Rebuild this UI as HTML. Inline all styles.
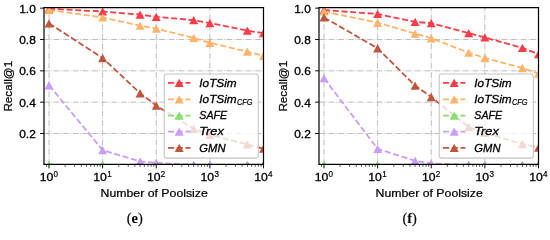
<!DOCTYPE html>
<html><head><meta charset="utf-8"><style>
html,body{margin:0;padding:0;background:#fff;width:550px;height:230px;overflow:hidden}
svg{display:block;will-change:transform}
.t{font-family:"Liberation Sans",sans-serif;font-size:11.6px;fill:#000;stroke:#000;stroke-width:0.32}
.s{font-family:"Liberation Sans",sans-serif;font-size:9.2px;fill:#000;stroke:#000;stroke-width:0.22399999999999998}
.i{font-style:italic}
.lb{stroke-width:0.24}
.cap{font-family:"Liberation Serif",serif;font-size:14.5px;font-weight:bold;fill:#000}
.pr{font-weight:normal;stroke:#000;stroke-width:0.15}
</style></head><body>
<svg width="550" height="230" viewBox="0 0 550 230">
<defs><clipPath id="ce"><rect x="44" y="7.6" width="219.5" height="156.85"/></clipPath><clipPath id="cf"><rect x="319" y="7.6" width="219.5" height="156.85"/></clipPath></defs>
<rect width="550" height="230" fill="#fff"/>
<line x1="49" y1="164.45" x2="49" y2="7.6" stroke="#b5b5b5" stroke-width="0.9" stroke-dasharray="5.8 1.45 0.9 1.45"/>
<line x1="102.62" y1="164.45" x2="102.62" y2="7.6" stroke="#b5b5b5" stroke-width="0.9" stroke-dasharray="5.8 1.45 0.9 1.45"/>
<line x1="156.25" y1="164.45" x2="156.25" y2="7.6" stroke="#b5b5b5" stroke-width="0.9" stroke-dasharray="5.8 1.45 0.9 1.45"/>
<line x1="209.88" y1="164.45" x2="209.88" y2="7.6" stroke="#b5b5b5" stroke-width="0.9" stroke-dasharray="5.8 1.45 0.9 1.45"/>
<line x1="263.5" y1="164.45" x2="263.5" y2="7.6" stroke="#b5b5b5" stroke-width="0.9" stroke-dasharray="5.8 1.45 0.9 1.45"/>
<line x1="44" y1="133.5" x2="263.5" y2="133.5" stroke="#b5b5b5" stroke-width="0.9" stroke-dasharray="5.8 1.45 0.9 1.45"/>
<line x1="44" y1="102.16" x2="263.5" y2="102.16" stroke="#b5b5b5" stroke-width="0.9" stroke-dasharray="5.8 1.45 0.9 1.45"/>
<line x1="44" y1="70.83" x2="263.5" y2="70.83" stroke="#b5b5b5" stroke-width="0.9" stroke-dasharray="5.8 1.45 0.9 1.45"/>
<line x1="44" y1="39.49" x2="263.5" y2="39.49" stroke="#b5b5b5" stroke-width="0.9" stroke-dasharray="5.8 1.45 0.9 1.45"/>
<g clip-path="url(#ce)">
<polyline points="49,8.79 102.62,11.45 140.11,14.58 156.25,16.78 193.73,20.22 209.88,23.04 247.36,30.72 263.5,33.07" fill="none" stroke="#fa3c46" stroke-width="1.8" stroke-dasharray="6.1 2.65"/>
<polygon points="49,4.64 44.5,12.94 53.5,12.94" fill="#fa3c46"/>
<polygon points="102.62,7.3 98.12,15.6 107.12,15.6" fill="#fa3c46"/>
<polygon points="140.11,10.43 135.61,18.73 144.61,18.73" fill="#fa3c46"/>
<polygon points="156.25,12.63 151.75,20.93 160.75,20.93" fill="#fa3c46"/>
<polygon points="193.73,16.07 189.23,24.37 198.23,24.37" fill="#fa3c46"/>
<polygon points="209.88,18.89 205.38,27.19 214.38,27.19" fill="#fa3c46"/>
<polygon points="247.36,26.57 242.86,34.87 251.86,34.87" fill="#fa3c46"/>
<polygon points="263.5,28.92 259,37.22 268,37.22" fill="#fa3c46"/>
<polyline points="49,10.04 102.62,17.4 140.11,25.71 156.25,28.68 193.73,37.93 209.88,42.78 247.36,51.71 263.5,55.79" fill="none" stroke="#fdb46a" stroke-width="1.8" stroke-dasharray="6.1 2.65"/>
<polygon points="49,5.89 44.5,14.19 53.5,14.19" fill="#fdb46a"/>
<polygon points="102.62,13.25 98.12,21.55 107.12,21.55" fill="#fdb46a"/>
<polygon points="140.11,21.56 135.61,29.86 144.61,29.86" fill="#fdb46a"/>
<polygon points="156.25,24.53 151.75,32.83 160.75,32.83" fill="#fdb46a"/>
<polygon points="193.73,33.78 189.23,42.08 198.23,42.08" fill="#fdb46a"/>
<polygon points="209.88,38.63 205.38,46.93 214.38,46.93" fill="#fdb46a"/>
<polygon points="247.36,47.56 242.86,55.86 251.86,55.86" fill="#fdb46a"/>
<polygon points="263.5,51.64 259,59.94 268,59.94" fill="#fdb46a"/>
<polyline points="49,164.83 102.62,164.83 140.11,164.83 156.25,164.83 193.73,164.83 209.88,164.83 247.36,164.83 263.5,164.83" fill="none" stroke="#82e06e" stroke-width="1.8" stroke-dasharray="6.1 2.65"/>
<polygon points="49,160.68 44.5,168.98 53.5,168.98" fill="#82e06e"/>
<polygon points="102.62,160.68 98.12,168.98 107.12,168.98" fill="#82e06e"/>
<polygon points="140.11,160.68 135.61,168.98 144.61,168.98" fill="#82e06e"/>
<polygon points="156.25,160.68 151.75,168.98 160.75,168.98" fill="#82e06e"/>
<polygon points="193.73,160.68 189.23,168.98 198.23,168.98" fill="#82e06e"/>
<polygon points="209.88,160.68 205.38,168.98 214.38,168.98" fill="#82e06e"/>
<polygon points="247.36,160.68 242.86,168.98 251.86,168.98" fill="#82e06e"/>
<polygon points="263.5,160.68 259,168.98 268,168.98" fill="#82e06e"/>
<polyline points="49,85.24 102.62,150.1 140.11,161.38 156.25,162.79 193.73,164.83 209.88,164.83 247.36,164.83 263.5,164.83" fill="none" stroke="#ca9df9" stroke-width="1.8" stroke-dasharray="6.1 2.65"/>
<polygon points="49,81.09 44.5,89.39 53.5,89.39" fill="#ca9df9"/>
<polygon points="102.62,145.95 98.12,154.25 107.12,154.25" fill="#ca9df9"/>
<polygon points="140.11,157.23 135.61,165.53 144.61,165.53" fill="#ca9df9"/>
<polygon points="156.25,158.64 151.75,166.94 160.75,166.94" fill="#ca9df9"/>
<polygon points="193.73,160.68 189.23,168.98 198.23,168.98" fill="#ca9df9"/>
<polygon points="209.88,160.68 205.38,168.98 214.38,168.98" fill="#ca9df9"/>
<polygon points="247.36,160.68 242.86,168.98 251.86,168.98" fill="#ca9df9"/>
<polygon points="263.5,160.68 259,168.98 268,168.98" fill="#ca9df9"/>
<polyline points="49,23.36 102.62,57.98 140.11,93.23 156.25,105.61 193.73,128.8 209.88,134.75 247.36,144.46 263.5,148.69" fill="none" stroke="#c0553e" stroke-width="1.8" stroke-dasharray="6.1 2.65"/>
<polygon points="49,19.21 44.5,27.51 53.5,27.51" fill="#c0553e"/>
<polygon points="102.62,53.83 98.12,62.13 107.12,62.13" fill="#c0553e"/>
<polygon points="140.11,89.08 135.61,97.38 144.61,97.38" fill="#c0553e"/>
<polygon points="156.25,101.46 151.75,109.76 160.75,109.76" fill="#c0553e"/>
<polygon points="193.73,124.65 189.23,132.95 198.23,132.95" fill="#c0553e"/>
<polygon points="209.88,130.6 205.38,138.9 214.38,138.9" fill="#c0553e"/>
<polygon points="247.36,140.31 242.86,148.61 251.86,148.61" fill="#c0553e"/>
<polygon points="263.5,144.54 259,152.84 268,152.84" fill="#c0553e"/>
</g>
<line x1="44" y1="7.6" x2="263.5" y2="7.6" stroke="#000" stroke-width="1.2" stroke-linecap="square"/>
<line x1="44" y1="164.45" x2="263.5" y2="164.45" stroke="#000" stroke-width="1.2" stroke-linecap="square"/>
<line x1="44" y1="7.6" x2="44" y2="164.45" stroke="#000" stroke-width="1.2"/>
<line x1="263.5" y1="7.6" x2="263.5" y2="164.45" stroke="#000" stroke-width="1.2"/>
<line x1="40.1" y1="133.5" x2="44" y2="133.5" stroke="#000" stroke-width="0.95"/>
<text x="35.8" y="138" text-anchor="end" class="t" textLength="16.6" lengthAdjust="spacingAndGlyphs">0.2</text>
<line x1="40.1" y1="102.16" x2="44" y2="102.16" stroke="#000" stroke-width="0.95"/>
<text x="35.8" y="106.66" text-anchor="end" class="t" textLength="16.6" lengthAdjust="spacingAndGlyphs">0.4</text>
<line x1="40.1" y1="70.83" x2="44" y2="70.83" stroke="#000" stroke-width="0.95"/>
<text x="35.8" y="75.33" text-anchor="end" class="t" textLength="16.6" lengthAdjust="spacingAndGlyphs">0.6</text>
<line x1="40.1" y1="39.49" x2="44" y2="39.49" stroke="#000" stroke-width="0.95"/>
<text x="35.8" y="43.99" text-anchor="end" class="t" textLength="16.6" lengthAdjust="spacingAndGlyphs">0.8</text>
<line x1="40.1" y1="8.16" x2="44" y2="8.16" stroke="#000" stroke-width="0.95"/>
<text x="35.8" y="12.66" text-anchor="end" class="t" textLength="16.6" lengthAdjust="spacingAndGlyphs">1.0</text>
<line x1="49" y1="164.45" x2="49" y2="168.35" stroke="#000" stroke-width="0.95"/>
<text x="39.7" y="180.95" class="t" textLength="13.6" lengthAdjust="spacingAndGlyphs">10</text>
<text x="53.6" y="177.05" class="s" textLength="4.5" lengthAdjust="spacingAndGlyphs">0</text>
<line x1="102.62" y1="164.45" x2="102.62" y2="168.35" stroke="#000" stroke-width="0.95"/>
<text x="93.33" y="180.95" class="t" textLength="13.6" lengthAdjust="spacingAndGlyphs">10</text>
<text x="107.22" y="177.05" class="s" textLength="4.5" lengthAdjust="spacingAndGlyphs">1</text>
<line x1="156.25" y1="164.45" x2="156.25" y2="168.35" stroke="#000" stroke-width="0.95"/>
<text x="146.95" y="180.95" class="t" textLength="13.6" lengthAdjust="spacingAndGlyphs">10</text>
<text x="160.85" y="177.05" class="s" textLength="4.5" lengthAdjust="spacingAndGlyphs">2</text>
<line x1="209.88" y1="164.45" x2="209.88" y2="168.35" stroke="#000" stroke-width="0.95"/>
<text x="200.57" y="180.95" class="t" textLength="13.6" lengthAdjust="spacingAndGlyphs">10</text>
<text x="214.47" y="177.05" class="s" textLength="4.5" lengthAdjust="spacingAndGlyphs">3</text>
<line x1="263.5" y1="164.45" x2="263.5" y2="168.35" stroke="#000" stroke-width="0.95"/>
<text x="254.2" y="180.95" class="t" textLength="13.6" lengthAdjust="spacingAndGlyphs">10</text>
<text x="268.1" y="177.05" class="s" textLength="4.5" lengthAdjust="spacingAndGlyphs">4</text>
<line x1="46.55" y1="164.45" x2="46.55" y2="166.75" stroke="#000" stroke-width="0.7"/>
<line x1="65.14" y1="164.45" x2="65.14" y2="166.75" stroke="#000" stroke-width="0.7"/>
<line x1="74.59" y1="164.45" x2="74.59" y2="166.75" stroke="#000" stroke-width="0.7"/>
<line x1="81.29" y1="164.45" x2="81.29" y2="166.75" stroke="#000" stroke-width="0.7"/>
<line x1="86.48" y1="164.45" x2="86.48" y2="166.75" stroke="#000" stroke-width="0.7"/>
<line x1="90.73" y1="164.45" x2="90.73" y2="166.75" stroke="#000" stroke-width="0.7"/>
<line x1="94.32" y1="164.45" x2="94.32" y2="166.75" stroke="#000" stroke-width="0.7"/>
<line x1="97.43" y1="164.45" x2="97.43" y2="166.75" stroke="#000" stroke-width="0.7"/>
<line x1="100.17" y1="164.45" x2="100.17" y2="166.75" stroke="#000" stroke-width="0.7"/>
<line x1="118.77" y1="164.45" x2="118.77" y2="166.75" stroke="#000" stroke-width="0.7"/>
<line x1="128.21" y1="164.45" x2="128.21" y2="166.75" stroke="#000" stroke-width="0.7"/>
<line x1="134.91" y1="164.45" x2="134.91" y2="166.75" stroke="#000" stroke-width="0.7"/>
<line x1="140.11" y1="164.45" x2="140.11" y2="166.75" stroke="#000" stroke-width="0.7"/>
<line x1="144.35" y1="164.45" x2="144.35" y2="166.75" stroke="#000" stroke-width="0.7"/>
<line x1="147.94" y1="164.45" x2="147.94" y2="166.75" stroke="#000" stroke-width="0.7"/>
<line x1="151.05" y1="164.45" x2="151.05" y2="166.75" stroke="#000" stroke-width="0.7"/>
<line x1="153.8" y1="164.45" x2="153.8" y2="166.75" stroke="#000" stroke-width="0.7"/>
<line x1="172.39" y1="164.45" x2="172.39" y2="166.75" stroke="#000" stroke-width="0.7"/>
<line x1="181.84" y1="164.45" x2="181.84" y2="166.75" stroke="#000" stroke-width="0.7"/>
<line x1="188.54" y1="164.45" x2="188.54" y2="166.75" stroke="#000" stroke-width="0.7"/>
<line x1="193.73" y1="164.45" x2="193.73" y2="166.75" stroke="#000" stroke-width="0.7"/>
<line x1="197.98" y1="164.45" x2="197.98" y2="166.75" stroke="#000" stroke-width="0.7"/>
<line x1="201.57" y1="164.45" x2="201.57" y2="166.75" stroke="#000" stroke-width="0.7"/>
<line x1="204.68" y1="164.45" x2="204.68" y2="166.75" stroke="#000" stroke-width="0.7"/>
<line x1="207.42" y1="164.45" x2="207.42" y2="166.75" stroke="#000" stroke-width="0.7"/>
<line x1="226.02" y1="164.45" x2="226.02" y2="166.75" stroke="#000" stroke-width="0.7"/>
<line x1="235.46" y1="164.45" x2="235.46" y2="166.75" stroke="#000" stroke-width="0.7"/>
<line x1="242.16" y1="164.45" x2="242.16" y2="166.75" stroke="#000" stroke-width="0.7"/>
<line x1="247.36" y1="164.45" x2="247.36" y2="166.75" stroke="#000" stroke-width="0.7"/>
<line x1="251.6" y1="164.45" x2="251.6" y2="166.75" stroke="#000" stroke-width="0.7"/>
<line x1="255.19" y1="164.45" x2="255.19" y2="166.75" stroke="#000" stroke-width="0.7"/>
<line x1="258.3" y1="164.45" x2="258.3" y2="166.75" stroke="#000" stroke-width="0.7"/>
<line x1="261.05" y1="164.45" x2="261.05" y2="166.75" stroke="#000" stroke-width="0.7"/>
<rect x="164.2" y="73.9" width="94.1" height="84.2" rx="2.5" fill="#fff" fill-opacity="0.78" stroke="#c4c4c4" stroke-width="1.05"/>
<line x1="168" y1="82.9" x2="190.4" y2="82.9" stroke="#fa3c46" stroke-width="1.8" stroke-dasharray="6.1 2.65"/>
<polygon points="179.2,78.75 174.7,87.05 183.7,87.05" fill="#fa3c46"/>
<line x1="168" y1="99.4" x2="190.4" y2="99.4" stroke="#fdb46a" stroke-width="1.8" stroke-dasharray="6.1 2.65"/>
<polygon points="179.2,95.25 174.7,103.55 183.7,103.55" fill="#fdb46a"/>
<line x1="168" y1="115.6" x2="190.4" y2="115.6" stroke="#82e06e" stroke-width="1.8" stroke-dasharray="6.1 2.65"/>
<polygon points="179.2,111.45 174.7,119.75 183.7,119.75" fill="#82e06e"/>
<line x1="168" y1="131.7" x2="190.4" y2="131.7" stroke="#ca9df9" stroke-width="1.8" stroke-dasharray="6.1 2.65"/>
<polygon points="179.2,127.55 174.7,135.85 183.7,135.85" fill="#ca9df9"/>
<line x1="168" y1="147.9" x2="190.4" y2="147.9" stroke="#c0553e" stroke-width="1.8" stroke-dasharray="6.1 2.65"/>
<polygon points="179.2,143.75 174.7,152.05 183.7,152.05" fill="#c0553e"/>
<text x="199.3" y="86.6" class="t i" textLength="37.4" lengthAdjust="spacingAndGlyphs">IoTSim</text>
<text x="199.3" y="103.1" class="t i" textLength="37.4" lengthAdjust="spacingAndGlyphs">IoTSim</text>
<text x="236.9" y="104.8" class="s i" textLength="15.6" lengthAdjust="spacingAndGlyphs">CFG</text>
<text x="199.3" y="119.3" class="t i" textLength="27.8" lengthAdjust="spacingAndGlyphs">SAFE</text>
<text x="199.3" y="135.4" class="t i" textLength="24.5" lengthAdjust="spacingAndGlyphs">Trex</text>
<text x="199.3" y="151.6" class="t i" textLength="26.2" lengthAdjust="spacingAndGlyphs">GMN</text>
<text x="100.6" y="196.9" class="t lb" textLength="107.2" lengthAdjust="spacingAndGlyphs">Number of Poolsize</text>
<text transform="translate(12.4,111.6) rotate(-90)" class="t lb" textLength="50.8" lengthAdjust="spacingAndGlyphs">Recall@1</text>
<text x="134.7" y="222.8" class="cap" text-anchor="middle"><tspan class="pr">(</tspan>e<tspan class="pr">)</tspan></text>
<line x1="324" y1="164.45" x2="324" y2="7.6" stroke="#b5b5b5" stroke-width="0.9" stroke-dasharray="5.8 1.45 0.9 1.45"/>
<line x1="377.62" y1="164.45" x2="377.62" y2="7.6" stroke="#b5b5b5" stroke-width="0.9" stroke-dasharray="5.8 1.45 0.9 1.45"/>
<line x1="431.25" y1="164.45" x2="431.25" y2="7.6" stroke="#b5b5b5" stroke-width="0.9" stroke-dasharray="5.8 1.45 0.9 1.45"/>
<line x1="484.88" y1="164.45" x2="484.88" y2="7.6" stroke="#b5b5b5" stroke-width="0.9" stroke-dasharray="5.8 1.45 0.9 1.45"/>
<line x1="538.5" y1="164.45" x2="538.5" y2="7.6" stroke="#b5b5b5" stroke-width="0.9" stroke-dasharray="5.8 1.45 0.9 1.45"/>
<line x1="319" y1="133.5" x2="538.5" y2="133.5" stroke="#b5b5b5" stroke-width="0.9" stroke-dasharray="5.8 1.45 0.9 1.45"/>
<line x1="319" y1="102.16" x2="538.5" y2="102.16" stroke="#b5b5b5" stroke-width="0.9" stroke-dasharray="5.8 1.45 0.9 1.45"/>
<line x1="319" y1="70.83" x2="538.5" y2="70.83" stroke="#b5b5b5" stroke-width="0.9" stroke-dasharray="5.8 1.45 0.9 1.45"/>
<line x1="319" y1="39.49" x2="538.5" y2="39.49" stroke="#b5b5b5" stroke-width="0.9" stroke-dasharray="5.8 1.45 0.9 1.45"/>
<g clip-path="url(#cf)">
<polyline points="324,10.04 377.62,13.96 415.11,21.95 431.25,23.2 468.73,33.07 484.88,37.46 522.36,47.95 538.5,54.06" fill="none" stroke="#fa3c46" stroke-width="1.8" stroke-dasharray="6.1 2.65"/>
<polygon points="324,5.89 319.5,14.19 328.5,14.19" fill="#fa3c46"/>
<polygon points="377.62,9.81 373.12,18.11 382.12,18.11" fill="#fa3c46"/>
<polygon points="415.11,17.8 410.61,26.1 419.61,26.1" fill="#fa3c46"/>
<polygon points="431.25,19.05 426.75,27.35 435.75,27.35" fill="#fa3c46"/>
<polygon points="468.73,28.92 464.23,37.22 473.23,37.22" fill="#fa3c46"/>
<polygon points="484.88,33.31 480.38,41.61 489.38,41.61" fill="#fa3c46"/>
<polygon points="522.36,43.8 517.86,52.1 526.86,52.1" fill="#fa3c46"/>
<polygon points="538.5,49.91 534,58.21 543,58.21" fill="#fa3c46"/>
<polyline points="324,11.45 377.62,22.73 415.11,33.54 431.25,38.24 468.73,52.65 484.88,57.98 522.36,68.01 538.5,73.65" fill="none" stroke="#fdb46a" stroke-width="1.8" stroke-dasharray="6.1 2.65"/>
<polygon points="324,7.3 319.5,15.6 328.5,15.6" fill="#fdb46a"/>
<polygon points="377.62,18.58 373.12,26.88 382.12,26.88" fill="#fdb46a"/>
<polygon points="415.11,29.39 410.61,37.69 419.61,37.69" fill="#fdb46a"/>
<polygon points="431.25,34.09 426.75,42.39 435.75,42.39" fill="#fdb46a"/>
<polygon points="468.73,48.5 464.23,56.8 473.23,56.8" fill="#fdb46a"/>
<polygon points="484.88,53.83 480.38,62.13 489.38,62.13" fill="#fdb46a"/>
<polygon points="522.36,63.86 517.86,72.16 526.86,72.16" fill="#fdb46a"/>
<polygon points="538.5,69.5 534,77.8 543,77.8" fill="#fdb46a"/>
<polyline points="324,164.83 377.62,164.83 415.11,164.83 431.25,164.83 468.73,164.83 484.88,164.83 522.36,164.83 538.5,164.83" fill="none" stroke="#82e06e" stroke-width="1.8" stroke-dasharray="6.1 2.65"/>
<polygon points="324,160.68 319.5,168.98 328.5,168.98" fill="#82e06e"/>
<polygon points="377.62,160.68 373.12,168.98 382.12,168.98" fill="#82e06e"/>
<polygon points="415.11,160.68 410.61,168.98 419.61,168.98" fill="#82e06e"/>
<polygon points="431.25,160.68 426.75,168.98 435.75,168.98" fill="#82e06e"/>
<polygon points="468.73,160.68 464.23,168.98 473.23,168.98" fill="#82e06e"/>
<polygon points="484.88,160.68 480.38,168.98 489.38,168.98" fill="#82e06e"/>
<polygon points="522.36,160.68 517.86,168.98 526.86,168.98" fill="#82e06e"/>
<polygon points="538.5,160.68 534,168.98 543,168.98" fill="#82e06e"/>
<polyline points="324,78.19 377.62,148.85 415.11,160.76 431.25,163.42 468.73,164.83 484.88,164.83 522.36,164.83 538.5,164.83" fill="none" stroke="#ca9df9" stroke-width="1.8" stroke-dasharray="6.1 2.65"/>
<polygon points="324,74.04 319.5,82.34 328.5,82.34" fill="#ca9df9"/>
<polygon points="377.62,144.7 373.12,153 382.12,153" fill="#ca9df9"/>
<polygon points="415.11,156.61 410.61,164.91 419.61,164.91" fill="#ca9df9"/>
<polygon points="431.25,159.27 426.75,167.57 435.75,167.57" fill="#ca9df9"/>
<polygon points="468.73,160.68 464.23,168.98 473.23,168.98" fill="#ca9df9"/>
<polygon points="484.88,160.68 480.38,168.98 489.38,168.98" fill="#ca9df9"/>
<polygon points="522.36,160.68 517.86,168.98 526.86,168.98" fill="#ca9df9"/>
<polygon points="538.5,160.68 534,168.98 543,168.98" fill="#ca9df9"/>
<polyline points="324,17.4 377.62,48.27 415.11,85.71 431.25,96.99 468.73,127.07 484.88,132.87 522.36,143.99 538.5,147.6" fill="none" stroke="#c0553e" stroke-width="1.8" stroke-dasharray="6.1 2.65"/>
<polygon points="324,13.25 319.5,21.55 328.5,21.55" fill="#c0553e"/>
<polygon points="377.62,44.12 373.12,52.42 382.12,52.42" fill="#c0553e"/>
<polygon points="415.11,81.56 410.61,89.86 419.61,89.86" fill="#c0553e"/>
<polygon points="431.25,92.84 426.75,101.14 435.75,101.14" fill="#c0553e"/>
<polygon points="468.73,122.92 464.23,131.22 473.23,131.22" fill="#c0553e"/>
<polygon points="484.88,128.72 480.38,137.02 489.38,137.02" fill="#c0553e"/>
<polygon points="522.36,139.84 517.86,148.14 526.86,148.14" fill="#c0553e"/>
<polygon points="538.5,143.45 534,151.75 543,151.75" fill="#c0553e"/>
</g>
<line x1="319" y1="7.6" x2="538.5" y2="7.6" stroke="#000" stroke-width="1.2" stroke-linecap="square"/>
<line x1="319" y1="164.45" x2="538.5" y2="164.45" stroke="#000" stroke-width="1.2" stroke-linecap="square"/>
<line x1="319" y1="7.6" x2="319" y2="164.45" stroke="#000" stroke-width="1.2"/>
<line x1="538.5" y1="7.6" x2="538.5" y2="164.45" stroke="#000" stroke-width="1.2"/>
<line x1="315.1" y1="133.5" x2="319" y2="133.5" stroke="#000" stroke-width="0.95"/>
<text x="310.8" y="138" text-anchor="end" class="t" textLength="16.6" lengthAdjust="spacingAndGlyphs">0.2</text>
<line x1="315.1" y1="102.16" x2="319" y2="102.16" stroke="#000" stroke-width="0.95"/>
<text x="310.8" y="106.66" text-anchor="end" class="t" textLength="16.6" lengthAdjust="spacingAndGlyphs">0.4</text>
<line x1="315.1" y1="70.83" x2="319" y2="70.83" stroke="#000" stroke-width="0.95"/>
<text x="310.8" y="75.33" text-anchor="end" class="t" textLength="16.6" lengthAdjust="spacingAndGlyphs">0.6</text>
<line x1="315.1" y1="39.49" x2="319" y2="39.49" stroke="#000" stroke-width="0.95"/>
<text x="310.8" y="43.99" text-anchor="end" class="t" textLength="16.6" lengthAdjust="spacingAndGlyphs">0.8</text>
<line x1="315.1" y1="8.16" x2="319" y2="8.16" stroke="#000" stroke-width="0.95"/>
<text x="310.8" y="12.66" text-anchor="end" class="t" textLength="16.6" lengthAdjust="spacingAndGlyphs">1.0</text>
<line x1="324" y1="164.45" x2="324" y2="168.35" stroke="#000" stroke-width="0.95"/>
<text x="314.7" y="180.95" class="t" textLength="13.6" lengthAdjust="spacingAndGlyphs">10</text>
<text x="328.6" y="177.05" class="s" textLength="4.5" lengthAdjust="spacingAndGlyphs">0</text>
<line x1="377.62" y1="164.45" x2="377.62" y2="168.35" stroke="#000" stroke-width="0.95"/>
<text x="368.32" y="180.95" class="t" textLength="13.6" lengthAdjust="spacingAndGlyphs">10</text>
<text x="382.23" y="177.05" class="s" textLength="4.5" lengthAdjust="spacingAndGlyphs">1</text>
<line x1="431.25" y1="164.45" x2="431.25" y2="168.35" stroke="#000" stroke-width="0.95"/>
<text x="421.95" y="180.95" class="t" textLength="13.6" lengthAdjust="spacingAndGlyphs">10</text>
<text x="435.85" y="177.05" class="s" textLength="4.5" lengthAdjust="spacingAndGlyphs">2</text>
<line x1="484.88" y1="164.45" x2="484.88" y2="168.35" stroke="#000" stroke-width="0.95"/>
<text x="475.57" y="180.95" class="t" textLength="13.6" lengthAdjust="spacingAndGlyphs">10</text>
<text x="489.48" y="177.05" class="s" textLength="4.5" lengthAdjust="spacingAndGlyphs">3</text>
<line x1="538.5" y1="164.45" x2="538.5" y2="168.35" stroke="#000" stroke-width="0.95"/>
<text x="529.2" y="180.95" class="t" textLength="13.6" lengthAdjust="spacingAndGlyphs">10</text>
<text x="543.1" y="177.05" class="s" textLength="4.5" lengthAdjust="spacingAndGlyphs">4</text>
<line x1="321.55" y1="164.45" x2="321.55" y2="166.75" stroke="#000" stroke-width="0.7"/>
<line x1="340.14" y1="164.45" x2="340.14" y2="166.75" stroke="#000" stroke-width="0.7"/>
<line x1="349.59" y1="164.45" x2="349.59" y2="166.75" stroke="#000" stroke-width="0.7"/>
<line x1="356.29" y1="164.45" x2="356.29" y2="166.75" stroke="#000" stroke-width="0.7"/>
<line x1="361.48" y1="164.45" x2="361.48" y2="166.75" stroke="#000" stroke-width="0.7"/>
<line x1="365.73" y1="164.45" x2="365.73" y2="166.75" stroke="#000" stroke-width="0.7"/>
<line x1="369.32" y1="164.45" x2="369.32" y2="166.75" stroke="#000" stroke-width="0.7"/>
<line x1="372.43" y1="164.45" x2="372.43" y2="166.75" stroke="#000" stroke-width="0.7"/>
<line x1="375.17" y1="164.45" x2="375.17" y2="166.75" stroke="#000" stroke-width="0.7"/>
<line x1="393.77" y1="164.45" x2="393.77" y2="166.75" stroke="#000" stroke-width="0.7"/>
<line x1="403.21" y1="164.45" x2="403.21" y2="166.75" stroke="#000" stroke-width="0.7"/>
<line x1="409.91" y1="164.45" x2="409.91" y2="166.75" stroke="#000" stroke-width="0.7"/>
<line x1="415.11" y1="164.45" x2="415.11" y2="166.75" stroke="#000" stroke-width="0.7"/>
<line x1="419.35" y1="164.45" x2="419.35" y2="166.75" stroke="#000" stroke-width="0.7"/>
<line x1="422.94" y1="164.45" x2="422.94" y2="166.75" stroke="#000" stroke-width="0.7"/>
<line x1="426.05" y1="164.45" x2="426.05" y2="166.75" stroke="#000" stroke-width="0.7"/>
<line x1="428.8" y1="164.45" x2="428.8" y2="166.75" stroke="#000" stroke-width="0.7"/>
<line x1="447.39" y1="164.45" x2="447.39" y2="166.75" stroke="#000" stroke-width="0.7"/>
<line x1="456.84" y1="164.45" x2="456.84" y2="166.75" stroke="#000" stroke-width="0.7"/>
<line x1="463.54" y1="164.45" x2="463.54" y2="166.75" stroke="#000" stroke-width="0.7"/>
<line x1="468.73" y1="164.45" x2="468.73" y2="166.75" stroke="#000" stroke-width="0.7"/>
<line x1="472.98" y1="164.45" x2="472.98" y2="166.75" stroke="#000" stroke-width="0.7"/>
<line x1="476.57" y1="164.45" x2="476.57" y2="166.75" stroke="#000" stroke-width="0.7"/>
<line x1="479.68" y1="164.45" x2="479.68" y2="166.75" stroke="#000" stroke-width="0.7"/>
<line x1="482.42" y1="164.45" x2="482.42" y2="166.75" stroke="#000" stroke-width="0.7"/>
<line x1="501.02" y1="164.45" x2="501.02" y2="166.75" stroke="#000" stroke-width="0.7"/>
<line x1="510.46" y1="164.45" x2="510.46" y2="166.75" stroke="#000" stroke-width="0.7"/>
<line x1="517.16" y1="164.45" x2="517.16" y2="166.75" stroke="#000" stroke-width="0.7"/>
<line x1="522.36" y1="164.45" x2="522.36" y2="166.75" stroke="#000" stroke-width="0.7"/>
<line x1="526.6" y1="164.45" x2="526.6" y2="166.75" stroke="#000" stroke-width="0.7"/>
<line x1="530.19" y1="164.45" x2="530.19" y2="166.75" stroke="#000" stroke-width="0.7"/>
<line x1="533.3" y1="164.45" x2="533.3" y2="166.75" stroke="#000" stroke-width="0.7"/>
<line x1="536.05" y1="164.45" x2="536.05" y2="166.75" stroke="#000" stroke-width="0.7"/>
<rect x="439.2" y="73.9" width="94.1" height="84.2" rx="2.5" fill="#fff" fill-opacity="0.78" stroke="#c4c4c4" stroke-width="1.05"/>
<line x1="443" y1="82.9" x2="465.4" y2="82.9" stroke="#fa3c46" stroke-width="1.8" stroke-dasharray="6.1 2.65"/>
<polygon points="454.2,78.75 449.7,87.05 458.7,87.05" fill="#fa3c46"/>
<line x1="443" y1="99.4" x2="465.4" y2="99.4" stroke="#fdb46a" stroke-width="1.8" stroke-dasharray="6.1 2.65"/>
<polygon points="454.2,95.25 449.7,103.55 458.7,103.55" fill="#fdb46a"/>
<line x1="443" y1="115.6" x2="465.4" y2="115.6" stroke="#82e06e" stroke-width="1.8" stroke-dasharray="6.1 2.65"/>
<polygon points="454.2,111.45 449.7,119.75 458.7,119.75" fill="#82e06e"/>
<line x1="443" y1="131.7" x2="465.4" y2="131.7" stroke="#ca9df9" stroke-width="1.8" stroke-dasharray="6.1 2.65"/>
<polygon points="454.2,127.55 449.7,135.85 458.7,135.85" fill="#ca9df9"/>
<line x1="443" y1="147.9" x2="465.4" y2="147.9" stroke="#c0553e" stroke-width="1.8" stroke-dasharray="6.1 2.65"/>
<polygon points="454.2,143.75 449.7,152.05 458.7,152.05" fill="#c0553e"/>
<text x="474.3" y="86.6" class="t i" textLength="37.4" lengthAdjust="spacingAndGlyphs">IoTSim</text>
<text x="474.3" y="103.1" class="t i" textLength="37.4" lengthAdjust="spacingAndGlyphs">IoTSim</text>
<text x="511.9" y="104.8" class="s i" textLength="15.6" lengthAdjust="spacingAndGlyphs">CFG</text>
<text x="474.3" y="119.3" class="t i" textLength="27.8" lengthAdjust="spacingAndGlyphs">SAFE</text>
<text x="474.3" y="135.4" class="t i" textLength="24.5" lengthAdjust="spacingAndGlyphs">Trex</text>
<text x="474.3" y="151.6" class="t i" textLength="26.2" lengthAdjust="spacingAndGlyphs">GMN</text>
<text x="375.6" y="196.9" class="t lb" textLength="107.2" lengthAdjust="spacingAndGlyphs">Number of Poolsize</text>
<text transform="translate(287.4,111.6) rotate(-90)" class="t lb" textLength="50.8" lengthAdjust="spacingAndGlyphs">Recall@1</text>
<text x="409.7" y="222.8" class="cap" text-anchor="middle"><tspan class="pr">(</tspan>f<tspan class="pr">)</tspan></text>
</svg>
</body></html>
